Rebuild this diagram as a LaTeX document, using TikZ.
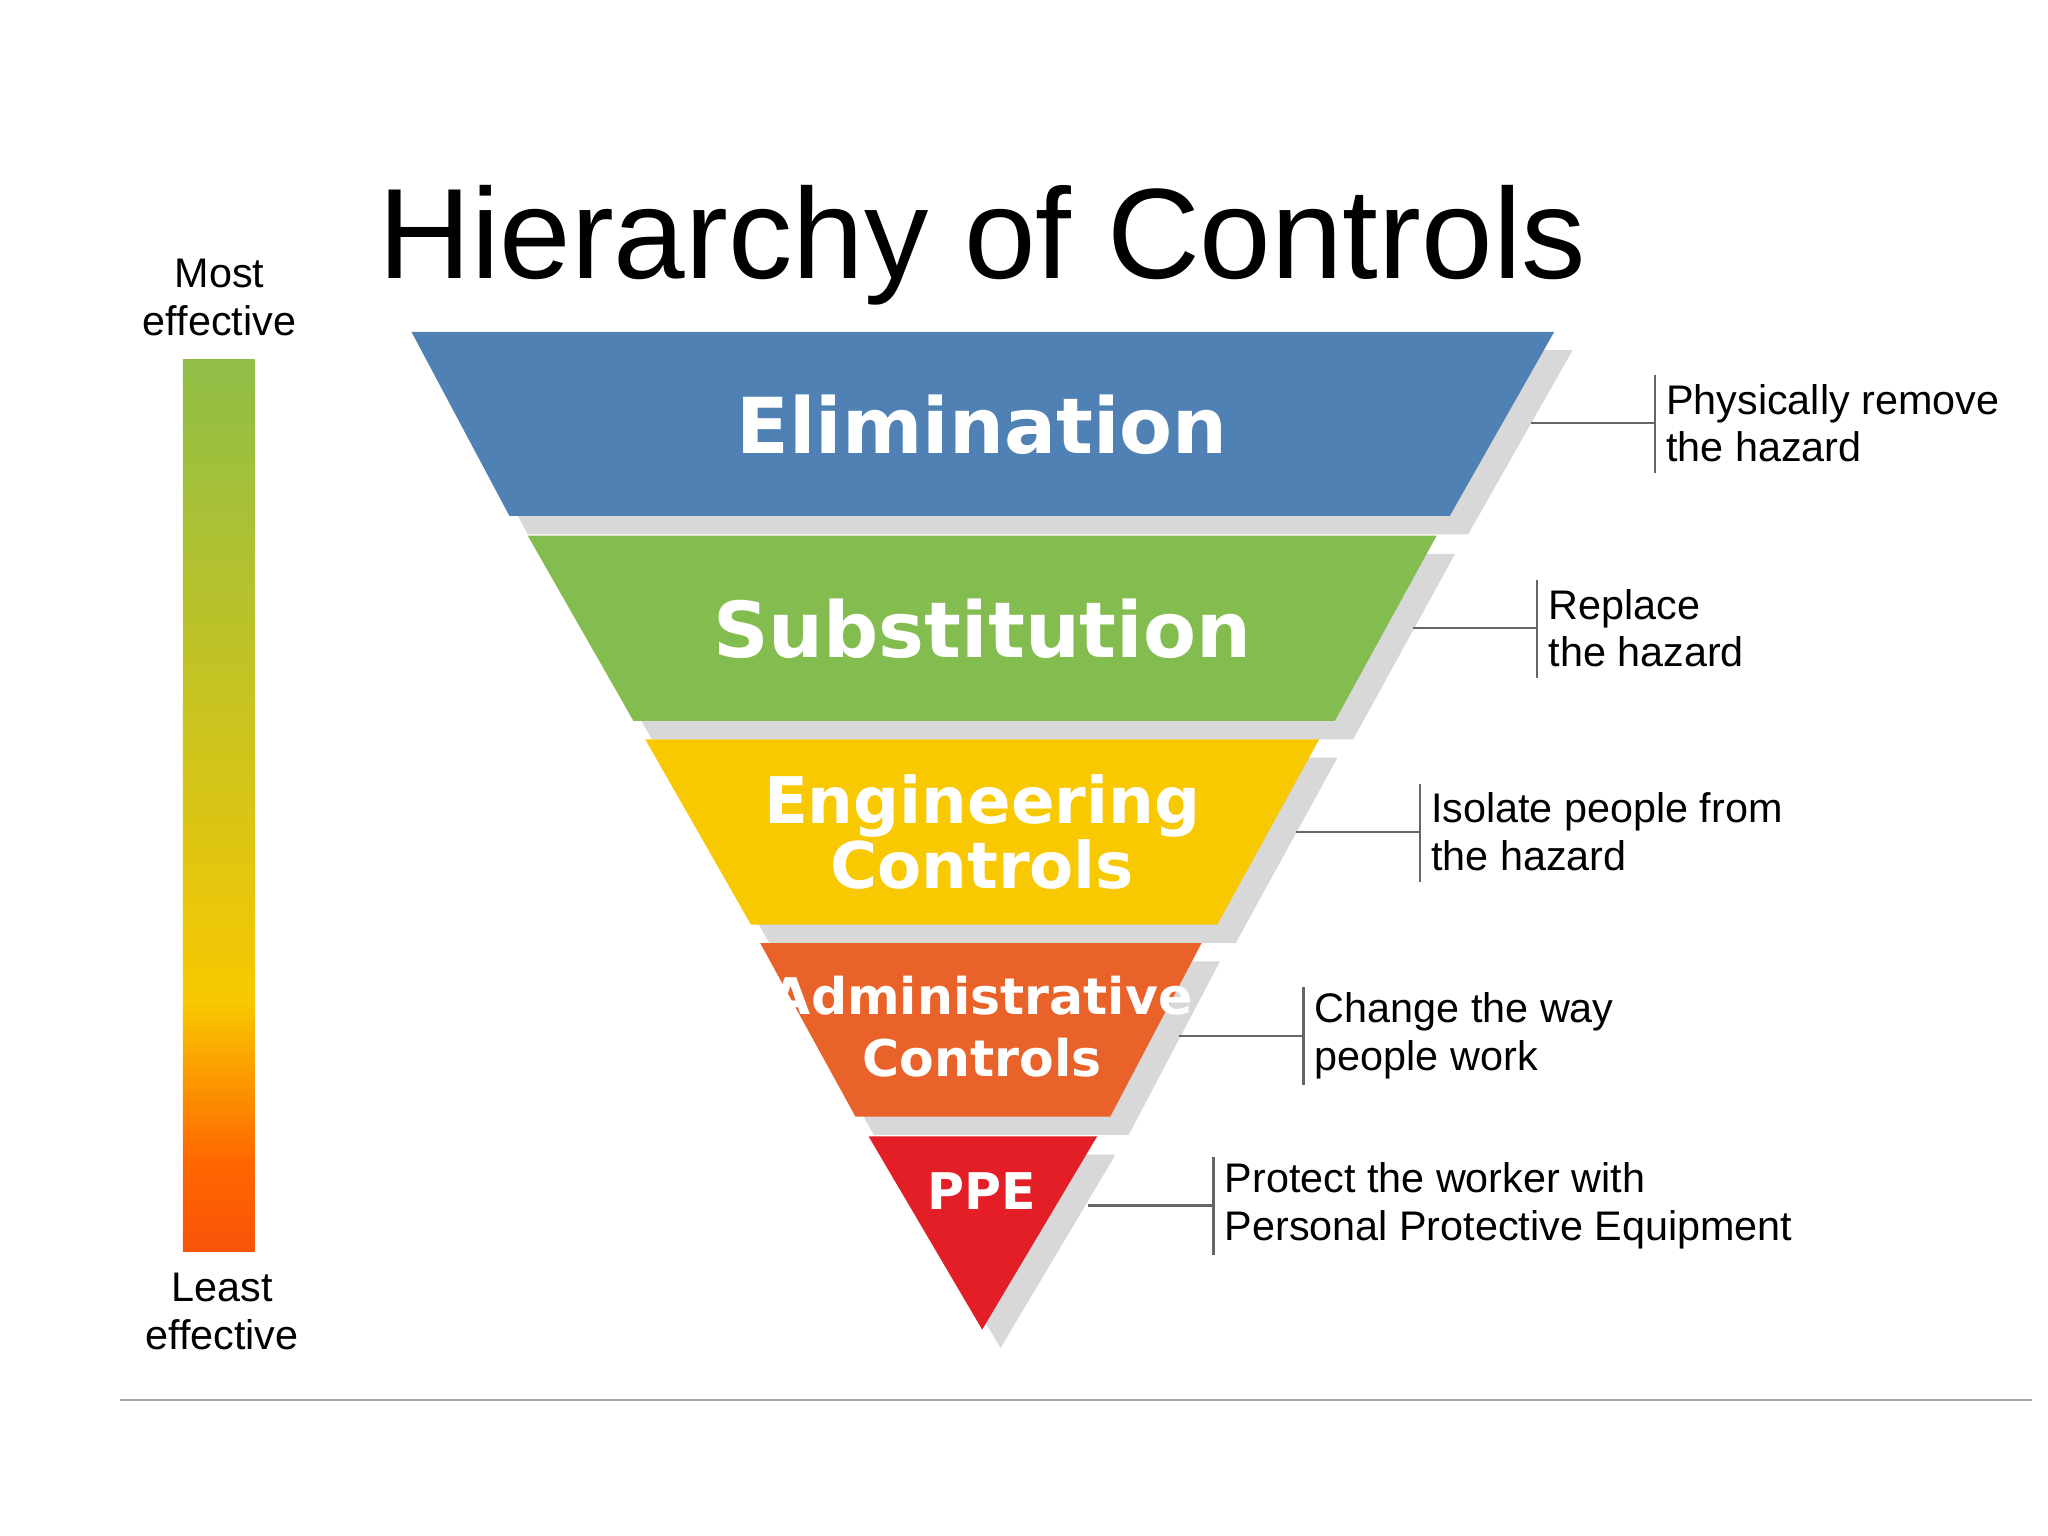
\documentclass[tikz,border=0pt]{standalone}
\usepackage{fontspec}
\setmainfont{Liberation Sans}
\newfontfamily\bandfont{DejaVu Sans Bold}
\usetikzlibrary{shadows}
\definecolor{cblue}{HTML}{4F81B4}
\definecolor{cgreen}{HTML}{84BD4F}
\definecolor{cyellow}{HTML}{F8C800}
\definecolor{corange}{HTML}{E8622A}
\definecolor{cred}{HTML}{E41E26}
\pgfdeclareverticalshading{effbar}{100bp}{color(0bp)=(cred); color(10bp)=(cred); color(30bp)=(orange!80!red); color(39bp)=(cyellow); color(55bp)=(cyellow!60!cgreen); color(79bp)=(cgreen); color(96bp)=(cblue); color(100bp)=(cblue)}
\tikzset{
 band/.style={drop shadow={shadow xshift=4pt,shadow yshift=-4pt,fill=black!25,opacity=0.6}},
 bandtext/.style={text=white,font=\bandfont,align=center,inner sep=0pt},
 side/.style={anchor=west,align=left,font=\fontsize{9}{10.4}\selectfont,inner sep=0pt},
 tick/.style={draw=black!60,line width=0.5pt}
}
\begin{document}
\begin{tikzpicture}[x=0.01cm,y=-0.01cm]
\useasboundingbox[fill=white] (0,0) rectangle (1568,1176);
\node[font=\fontsize{28}{32}\selectfont] (title) at (752,188) {Hierarchy of Controls};
% bands
\fill[cblue,band] (315,254) -- (1190,254) -- (1110,395) -- (390,395) -- cycle;
\fill[cgreen,band] (404,410) -- (1100,410) -- (1022,552) -- (485,552) -- cycle;
\fill[cyellow,band] (494,566) -- (1010,566) -- (932,708) -- (575,708) -- cycle;
\fill[corange,band] (582,722) -- (920,722) -- (850,855) -- (655,855) -- cycle;
\fill[cred,band] (665,870) -- (840,870) -- (752,1018) -- cycle;
\node[bandtext,font=\bandfont\fontsize{16.8}{18}\selectfont] (elim) at (752,325) {Elimination};
\node[bandtext,font=\bandfont\fontsize{16.8}{18}\selectfont] (subs) at (752,481) {Substitution};
\node[bandtext,font=\bandfont\fontsize{14}{14.2}\selectfont] (eng) at (752,637) {Engineering\\Controls};
\node[bandtext,font=\bandfont\fontsize{11}{13.4}\selectfont] (adm) at (752,786) {Administrative\\Controls};
\node[bandtext,font=\bandfont\fontsize{11}{13}\selectfont] (ppe) at (752,912) {PPE};
% side labels
\foreach \n/\hx/\vx/\y/\txt in {
 a/1172/1267/324/{Physically remove\\the hazard},
 b/1082/1177/481/{Replace\\the hazard},
 c/992/1087/637/{Isolate people from\\the hazard},
 d/903/998/793/{Change the way\\people work},
 e/833/929/923/{Protect the worker with\\Personal Protective Equipment}}{
 \coordinate (\n h) at (\hx,\y);
 \coordinate (\n v) at (\vx,\y);
 \coordinate (\n t) at (\vx,\y-37);
 \coordinate (\n b) at (\vx,\y+38);
 \draw[tick] (\n h) -- (\n v);
 \draw[tick] (\n t) -- (\n b);
 \node[side] (\n lab) at (\vx+8,\y) {\txt};
}
% effectiveness bar
\shade[shading=effbar] (140,275) rectangle (195,958);
\node[align=center,font=\fontsize{9}{10.4}\selectfont] (most) at (168,228) {Most\\effective};
\node[align=center,font=\fontsize{9}{10.4}\selectfont] (least) at (170,1004) {Least\\effective};
\coordinate (l1) at (92,1072);
\coordinate (l2) at (1556,1072);
\draw[black!35,line width=0.5pt] (l1) -- (l2);
\end{tikzpicture}
\end{document}
